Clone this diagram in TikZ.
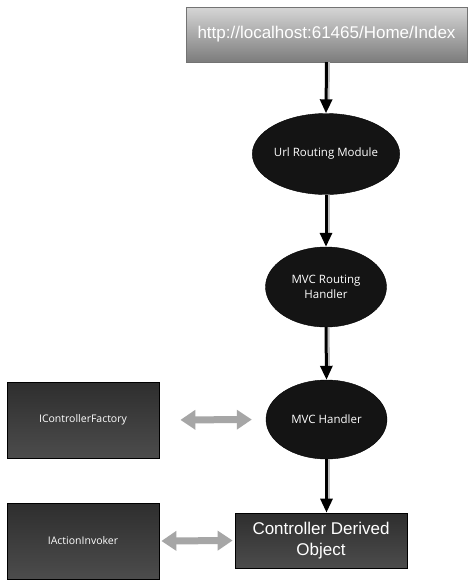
\documentclass[tikz,border=0pt]{standalone}
\usepackage{fontspec}
\setmainfont{Liberation Sans}
\newfontfamily\lblfont{Open Sans}
\usetikzlibrary{shapes.geometric,arrows.meta}
\definecolor{ellfill}{HTML}{141414}
\definecolor{darktop}{HTML}{2E2E2E}
\definecolor{darkbot}{HTML}{4C4C4C}
\definecolor{urltop}{HTML}{D6D6D6}
\definecolor{urlbot}{HTML}{7C7C7C}
\definecolor{dblarrow}{HTML}{A6A6A6}
\tikzset{
  ellnode/.style={ellipse, fill=ellfill, draw=black, text=white, minimum width=121pt, minimum height=81pt, inner sep=0pt, align=center, font=\lblfont\fontsize{11.5}{15}\selectfont},
  darkbox/.style={rectangle, top color=darktop, bottom color=darkbot, draw=black, line width=0.8pt, text=white, align=center},
  flow/.style={line width=3pt, -{Triangle[width=12pt,length=14pt]}, black},
  flowshadow/.style={line width=2pt, black!25},
  dbl/.style={line width=7pt, dblarrow, {Triangle[width=19pt,length=15pt]}-{Triangle[width=19pt,length=15pt]}},
}
\begin{document}
\begin{tikzpicture}[x=1pt,y=-1pt]
\useasboundingbox (0,0) rectangle (473,587);
\fill[white] (0,0) rectangle (473,587);

\node[rectangle, top color=urltop, bottom color=urlbot, draw=black!55, minimum width=281pt, minimum height=55pt, text=white, font=\fontsize{17}{20}\selectfont] (url) at (326.5,34.5) {http://localhost:61465/Home/Index};

\node[ellnode] (e1) at (326,154) {Url Routing Module};
\node[ellnode, minimum height=80pt] (e2) at (326,287) {MVC Routing\\Handler};
\node[ellnode, minimum height=79pt] (e3) at (326.5,419.5) {MVC Handler};

\node[darkbox, minimum width=172pt, minimum height=55pt, font=\fontsize{17}{21}\selectfont] (ctrl) at (321,540.5) {Controller Derived\\Object};
\node[darkbox, minimum width=152pt, minimum height=76pt, font=\lblfont\fontsize{10.5}{13}\selectfont] (icf) at (83,420) {IControllerFactory};
\node[darkbox, minimum width=152pt, minimum height=76pt, font=\lblfont\fontsize{10.5}{13}\selectfont] (iai) at (83,541) {IActionInvoker};

\draw[flowshadow] ([xshift=2.5pt]url.south) -- ([xshift=2.5pt,yshift=12pt]e1.north);
\draw[flowshadow] ([xshift=2.5pt]e1.south) -- ([xshift=2.5pt,yshift=12pt]e2.north);
\draw[flowshadow] ([xshift=2.5pt]e2.south) -- ([xshift=2.5pt,yshift=12pt]e3.north);
\draw[flowshadow] ([xshift=2.5pt]e3.south) -- ([xshift=2.5pt,yshift=12pt]e3.south |- ctrl.north);

\draw[flow] (url.south) -- (e1.north);
\draw[flow] (e1.south) -- (e2.north);
\draw[flow] (e2.south) -- (e3.north);
\draw[flow] (e3.south) -- (e3.south |- ctrl.north);

\draw[dbl, shorten <=21pt, shorten >=14pt] (icf.east) -- (e3.west);
\draw[dbl, shorten <=2pt, shorten >=2pt] (iai.east) -- (ctrl.west);
\end{tikzpicture}
\end{document}
